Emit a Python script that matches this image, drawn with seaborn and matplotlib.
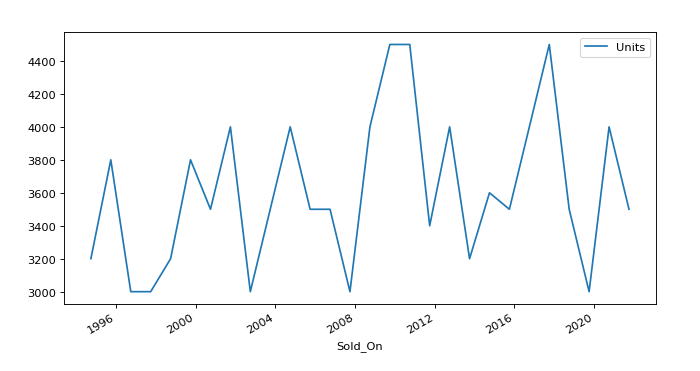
import pandas as pd
import seaborn as sns
import matplotlib
matplotlib.use("Agg")
import matplotlib.pyplot as plt
import matplotlib.dates as mdates

# yearly readings, taken at the start of October
sold_on = [
    "1994-10-01", "1995-10-01", "1996-10-01", "1997-10-01", "1998-10-01",
    "1999-10-01", "2000-10-01", "2001-10-01", "2002-10-01", "2003-10-01",
    "2004-10-01", "2005-10-01", "2006-10-01", "2007-10-01", "2008-10-01",
    "2009-10-01", "2010-10-01", "2011-10-01", "2012-10-01", "2013-10-01",
    "2014-10-01", "2015-10-01", "2016-10-01", "2017-10-01", "2018-10-01",
    "2019-10-01", "2020-10-01", "2021-10-01",
]
units = [
    3200, 3800, 3000, 3000, 3200,
    3800, 3500, 4000, 3000, 3500,
    4000, 3500, 3500, 3000, 4000,
    4500, 4500, 3400, 4000, 3200,
    3600, 3500, 4000, 4500, 3500,
    3000, 4000, 3500,
]

df = pd.DataFrame({"Sold_On": pd.to_datetime(sold_on), "Units": units})

# 82 dpi so default matplotlib sizes come out like the reference
fig = plt.figure(figsize=(700 / 82, 372 / 82), dpi=82)
ax = fig.add_axes([0.0914, 0.180, 0.8456, 0.731])

sns.lineplot(data=df, x="Sold_On", y="Units", color="#1f77b4", label="Units", ax=ax)

ax.xaxis.set_major_locator(mdates.YearLocator(4))
ax.xaxis.set_major_formatter(mdates.DateFormatter("%Y"))
for lbl in ax.get_xticklabels():
    lbl.set_rotation(30)
    lbl.set_ha("right")

ax.set_xlabel("Sold_On")
ax.set_ylabel("")
ax.legend(loc="upper right")

fig.savefig("out.png", dpi=82)
